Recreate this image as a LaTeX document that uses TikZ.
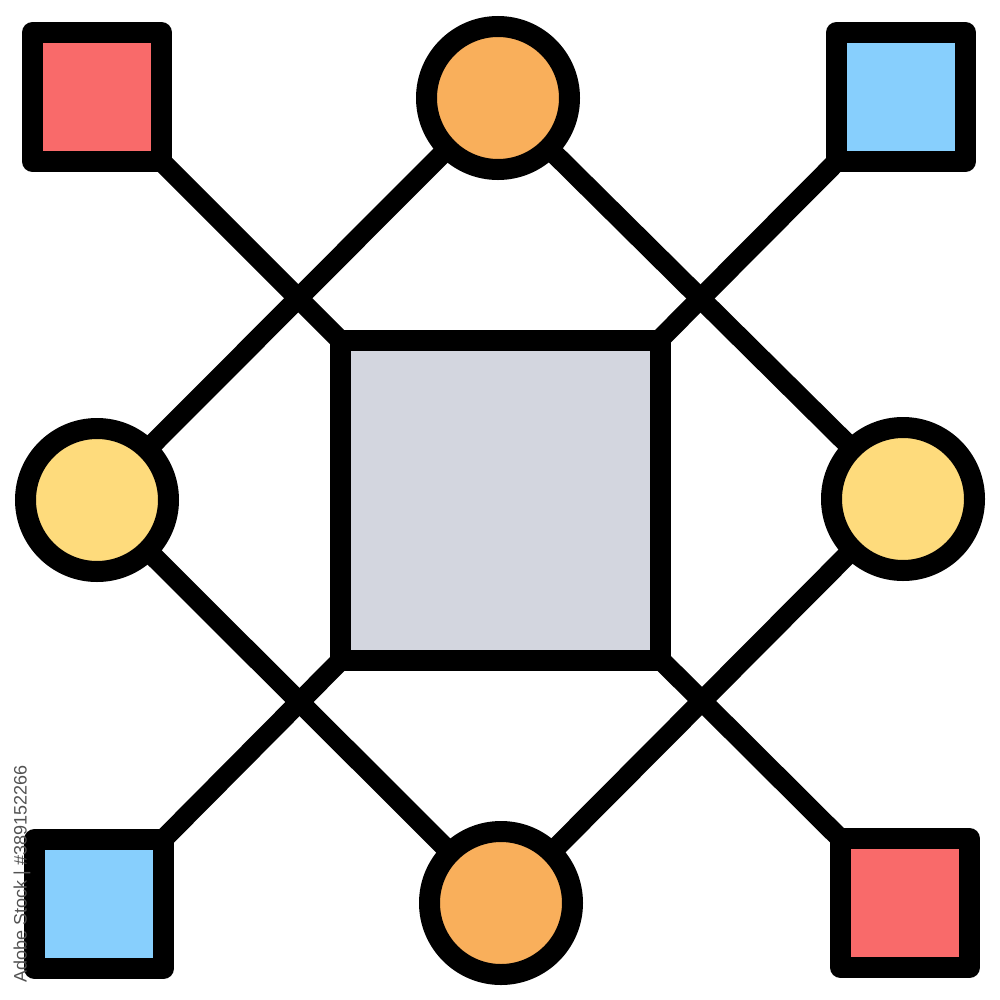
\documentclass[tikz,border=0pt]{standalone}
\usepackage{fontspec}
\newfontfamily\stockfont{Liberation Sans}
\usetikzlibrary{backgrounds}

\definecolor{hubgray}{RGB}{211,214,223}
\definecolor{tilered}{RGB}{249,106,106}
\definecolor{tileblue}{RGB}{135,207,253}
\definecolor{dotorange}{RGB}{249,175,91}
\definecolor{dotyellow}{RGB}{254,219,124}

\begin{document}
\begin{tikzpicture}[x=0.75pt,y=0.75pt,yscale=-1,xscale=1,
	box/.style={rectangle, draw=black, line width=15.75pt, line join=round, inner sep=0pt, minimum size=96.75pt},
	dot/.style={circle, draw=black, line width=15.75pt, inner sep=0pt, minimum size=107.25pt},
	link/.style={draw=black, line width=15pt}]
	\useasboundingbox (0,0) rectangle (1000,1000);
	
	%Shape: Square [id:hub] 
	\node [box, fill=hubgray, minimum size=240pt] (hub) at (500,500) {};
	
	%Shape: Corner tiles
	\node [box, fill=tilered] (tl) at (97,97) {};
	\node [box, fill=tileblue] (tr) at (901,97) {};
	\node [box, fill=tileblue] (bl) at (99,904) {};
	\node [box, fill=tilered] (br) at (905,903) {};
	
	%Shape: Circles
	\node [dot, fill=dotorange] (top) at (498,98) {};
	\node [dot, fill=dotyellow] (left) at (97,500) {};
	\node [dot, fill=dotyellow] (right) at (903,499) {};
	\node [dot, fill=dotorange] (bottom) at (501,903) {};
	
	%Straight Lines (behind the shapes)
	\begin{scope}[on background layer]
		\foreach \c in {tl,tr,bl,br}
			\draw [link] (\c.center) -- (hub.center) ;
		\draw [link] (top.center) -- (left.center) -- (bottom.center) -- (right.center) -- (top.center) ;
	\end{scope}
	
	% Text Node
	\node [rotate=90, inner sep=0.75pt, color=black!68] (stockid) at (22,874) {\stockfont\fontsize{13.5}{16}\selectfont Adobe Stock | \#389152266};
	
\end{tikzpicture}
\end{document}
